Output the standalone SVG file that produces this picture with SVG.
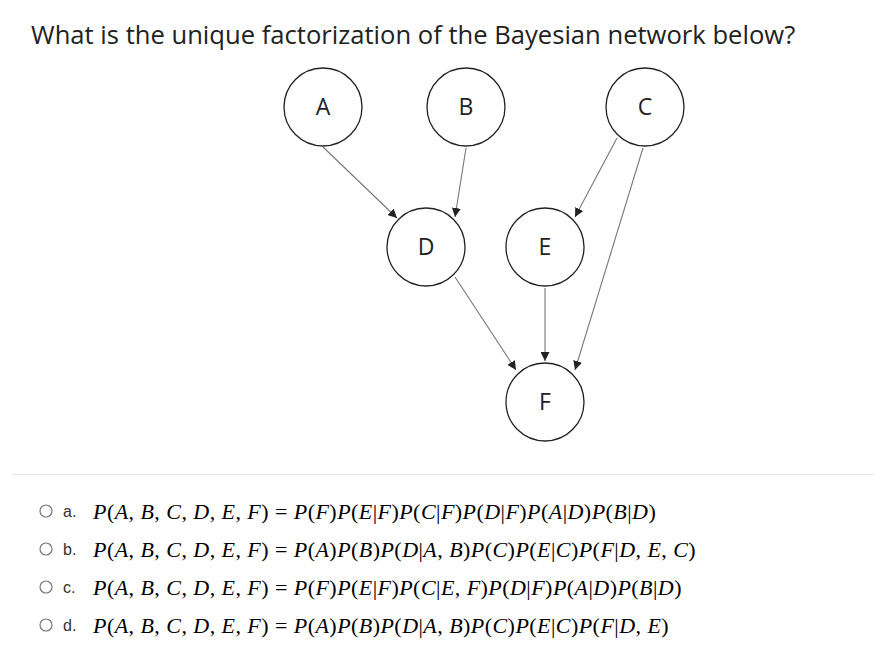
<svg xmlns="http://www.w3.org/2000/svg" width="874" height="670" viewBox="0 0 874 670">
<style>
.n circle{fill:#fff;stroke:#222;stroke-width:1.3}
.n text{font-family:"Open Sans","Noto Sans",sans-serif;font-size:23px;fill:#222;text-anchor:middle}
.e line{stroke:#777;stroke-width:1.1;marker-end:url(#ar)}
.opt{font-family:"Liberation Sans",sans-serif;font-size:16px;fill:#333}
.f{font-family:"Liberation Serif",serif;font-size:22px;fill:#000;letter-spacing:0.45px}
.r{fill:#fff;stroke:#777;stroke-width:1.2}
</style>
<defs><marker id="ar" viewBox="0 0 10 10" refX="10" refY="5" markerWidth="9" markerHeight="9" orient="auto" markerUnits="userSpaceOnUse"><path d="M0,0L10,5L0,10z" fill="#222"/></marker></defs>
<rect width="874" height="670" fill="#fff"/>
<text x="31" y="44" font-family="Open Sans,Noto Sans,sans-serif" font-size="25.6" fill="#222">What is the unique factorization of the Bayesian network below?</text>
<g id="edges" class="e">
<line x1="323" y1="147" x2="397" y2="218"/>
<line x1="466" y1="148" x2="455" y2="217"/>
<line x1="617" y1="138" x2="575" y2="217"/>
<line x1="643" y1="148" x2="575" y2="370"/>
<line x1="455" y1="277" x2="516" y2="370"/>
<line x1="545" y1="288" x2="545" y2="361"/>
</g>
<g id="A" class="n"><circle cx="323" cy="107" r="39"/><text x="323" y="115">A</text></g>
<g id="B" class="n"><circle cx="466" cy="107" r="39"/><text x="466" y="115">B</text></g>
<g id="C" class="n"><circle cx="645" cy="107" r="39"/><text x="645" y="115">C</text></g>
<g id="D" class="n"><circle cx="426" cy="247" r="39"/><text x="426" y="255">D</text></g>
<g id="E" class="n"><circle cx="545" cy="247" r="39"/><text x="545" y="255">E</text></g>
<g id="F" class="n"><circle cx="545" cy="402" r="39"/><text x="545" y="410">F</text></g>
<line x1="12" y1="474.5" x2="874" y2="474.5" stroke="#e6e6e6"/>
<g id="options">
<circle class="r" cx="46" cy="511" r="6"/><text class="opt" x="63" y="517">a.</text>
<text class="f" x="93" y="519"><tspan font-style="italic">P</tspan>(<tspan font-style="italic">A</tspan>, <tspan font-style="italic">B</tspan>, <tspan font-style="italic">C</tspan>, <tspan font-style="italic">D</tspan>, <tspan font-style="italic">E</tspan>, <tspan font-style="italic">F</tspan>) = <tspan font-style="italic">P</tspan>(<tspan font-style="italic">F</tspan>)<tspan font-style="italic">P</tspan>(<tspan font-style="italic">E</tspan>|<tspan font-style="italic">F</tspan>)<tspan font-style="italic">P</tspan>(<tspan font-style="italic">C</tspan>|<tspan font-style="italic">F</tspan>)<tspan font-style="italic">P</tspan>(<tspan font-style="italic">D</tspan>|<tspan font-style="italic">F</tspan>)<tspan font-style="italic">P</tspan>(<tspan font-style="italic">A</tspan>|<tspan font-style="italic">D</tspan>)<tspan font-style="italic">P</tspan>(<tspan font-style="italic">B</tspan>|<tspan font-style="italic">D</tspan>)</text>
<circle class="r" cx="46" cy="549" r="6"/><text class="opt" x="63" y="555">b.</text>
<text class="f" x="93" y="557"><tspan font-style="italic">P</tspan>(<tspan font-style="italic">A</tspan>, <tspan font-style="italic">B</tspan>, <tspan font-style="italic">C</tspan>, <tspan font-style="italic">D</tspan>, <tspan font-style="italic">E</tspan>, <tspan font-style="italic">F</tspan>) = <tspan font-style="italic">P</tspan>(<tspan font-style="italic">A</tspan>)<tspan font-style="italic">P</tspan>(<tspan font-style="italic">B</tspan>)<tspan font-style="italic">P</tspan>(<tspan font-style="italic">D</tspan>|<tspan font-style="italic">A</tspan>, <tspan font-style="italic">B</tspan>)<tspan font-style="italic">P</tspan>(<tspan font-style="italic">C</tspan>)<tspan font-style="italic">P</tspan>(<tspan font-style="italic">E</tspan>|<tspan font-style="italic">C</tspan>)<tspan font-style="italic">P</tspan>(<tspan font-style="italic">F</tspan>|<tspan font-style="italic">D</tspan>, <tspan font-style="italic">E</tspan>, <tspan font-style="italic">C</tspan>)</text>
<circle class="r" cx="46" cy="587" r="6"/><text class="opt" x="63" y="593">c.</text>
<text class="f" x="93" y="595"><tspan font-style="italic">P</tspan>(<tspan font-style="italic">A</tspan>, <tspan font-style="italic">B</tspan>, <tspan font-style="italic">C</tspan>, <tspan font-style="italic">D</tspan>, <tspan font-style="italic">E</tspan>, <tspan font-style="italic">F</tspan>) = <tspan font-style="italic">P</tspan>(<tspan font-style="italic">F</tspan>)<tspan font-style="italic">P</tspan>(<tspan font-style="italic">E</tspan>|<tspan font-style="italic">F</tspan>)<tspan font-style="italic">P</tspan>(<tspan font-style="italic">C</tspan>|<tspan font-style="italic">E</tspan>, <tspan font-style="italic">F</tspan>)<tspan font-style="italic">P</tspan>(<tspan font-style="italic">D</tspan>|<tspan font-style="italic">F</tspan>)<tspan font-style="italic">P</tspan>(<tspan font-style="italic">A</tspan>|<tspan font-style="italic">D</tspan>)<tspan font-style="italic">P</tspan>(<tspan font-style="italic">B</tspan>|<tspan font-style="italic">D</tspan>)</text>
<circle class="r" cx="46" cy="625" r="6"/><text class="opt" x="63" y="631">d.</text>
<text class="f" x="93" y="633"><tspan font-style="italic">P</tspan>(<tspan font-style="italic">A</tspan>, <tspan font-style="italic">B</tspan>, <tspan font-style="italic">C</tspan>, <tspan font-style="italic">D</tspan>, <tspan font-style="italic">E</tspan>, <tspan font-style="italic">F</tspan>) = <tspan font-style="italic">P</tspan>(<tspan font-style="italic">A</tspan>)<tspan font-style="italic">P</tspan>(<tspan font-style="italic">B</tspan>)<tspan font-style="italic">P</tspan>(<tspan font-style="italic">D</tspan>|<tspan font-style="italic">A</tspan>, <tspan font-style="italic">B</tspan>)<tspan font-style="italic">P</tspan>(<tspan font-style="italic">C</tspan>)<tspan font-style="italic">P</tspan>(<tspan font-style="italic">E</tspan>|<tspan font-style="italic">C</tspan>)<tspan font-style="italic">P</tspan>(<tspan font-style="italic">F</tspan>|<tspan font-style="italic">D</tspan>, <tspan font-style="italic">E</tspan>)</text>
</g>
</svg>
